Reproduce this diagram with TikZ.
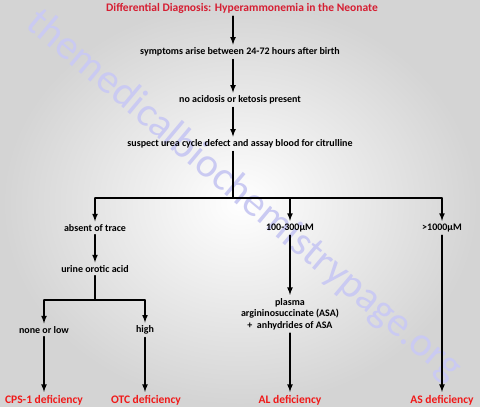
\documentclass[tikz,border=0pt]{standalone}
\usepackage{fontspec}
\setmainfont{Carlito}
\usetikzlibrary{arrows.meta, positioning, calc}
\definecolor{rougetitre}{RGB}{214,30,50}
\definecolor{rougefin}{RGB}{240,25,25}
\definecolor{lavande}{RGB}{202,202,242}

\begin{document}
\begin{tikzpicture}[x=0.025cm,y=-0.025cm]
        \tikzset{
          etape/.style={
            align=center,inner sep=2pt,
            font=\fontsize{7.1}{8.3}\selectfont\bfseries,text=black,
          },
          titre/.style={etape,font=\fontsize{8.2}{9.5}\selectfont\bfseries,text=rougetitre},
          resultat/.style={etape,font=\fontsize{8.2}{9.5}\selectfont\bfseries,text=rougefin},
          filigrane/.style={font=\fontsize{29.5}{32}\selectfont,text=lavande},
          trait/.style={line cap=round,line width=0.3mm},
          fleche/.style={trait,-latex},
          }
        \useasboundingbox (0,0) rectangle (480,407);
        \shade[inner color=white, outer color=black!17] (0,0) rectangle (480,407);
        \node[filigrane, rotate=-40] (marque) at (244,196) {themedicalbiochemistrypage.org};

        \node[titre] (titre) at (242,8) {Differential Diagnosis: Hyperammonemia in the Neonate};
        \node[etape] (symptomes) at (240,52) {symptoms arise between 24-72 hours after birth};
        \node[etape] (acidose) at (240,100) {no acidosis or ketosis present};
        \node[etape] (uree) at (240,144) {suspect urea cycle defect and assay blood for citrulline};
        \coordinate (embranchement) at (233,198);

        \node[etape] (trace) at (95,228) {absent of trace};
        \node[etape] (moyen) at (290,228) {100-300μM};
        \node[etape] (eleve) at (442,228) {>1000μM};
        \node[etape] (orotique) at (95,269) {urine orotic acid};
        \coordinate (branche) at (95,300);
        \node[etape] (faible) at (44,330) {none or low};
        \node[etape] (haut) at (145,330) {high};
        \node[etape] (asa) at (290,314) {plasma\\argininosuccinate (ASA)\\+\ \ anhydrides of ASA};

        \node[resultat] (cps) at (44,400) {CPS-1 deficiency};
        \node[resultat] (otc) at (146,400) {OTC deficiency};
        \node[resultat] (al) at (290,400) {AL deficiency};
        \node[resultat] (as) at (442,400) {AS deficiency};

        \draw[fleche] (titre.south -| embranchement) -- (symptomes.north -| embranchement);
        \draw[fleche] (symptomes.south -| embranchement) -- (acidose.north -| embranchement);
        \draw[fleche] (acidose.south -| embranchement) -- (uree.north -| embranchement);
        \draw[trait] (uree.south -| embranchement) -- (embranchement);
        \draw[trait] (embranchement -| trace) -- (embranchement -| eleve);
        \draw[fleche] (embranchement -| trace) -- (trace);
        \draw[fleche] (embranchement -| moyen) -- (moyen);
        \draw[fleche] (embranchement -| eleve) -- (eleve);

        \draw[fleche] (trace) -- (orotique);
        \draw[trait] (orotique) -- (branche);
        \draw[trait] (branche -| faible) -- (branche -| haut);
        \draw[fleche] (branche -| faible) -- (faible);
        \draw[fleche] (branche -| haut) -- (haut);
        \draw[fleche] (faible) -- (cps);
        \draw[fleche] (haut) -- (haut |- otc.north);

        \draw[fleche] (moyen) -- (asa);
        \draw[fleche] (asa) -- (al);
        \draw[fleche] (eleve) -- (as);
      \end{tikzpicture}
\end{document}
